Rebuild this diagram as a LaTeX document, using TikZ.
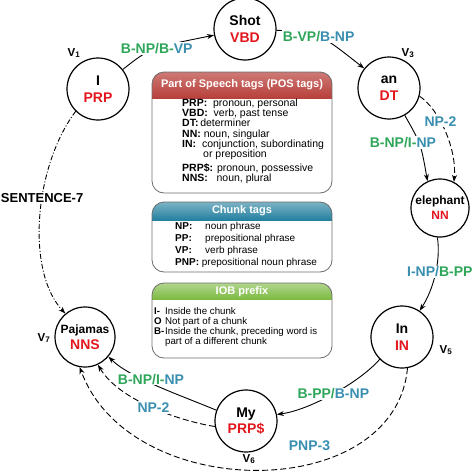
\documentclass[tikz,border=0pt]{standalone}
\usepackage{fontspec}
\setmainfont{Liberation Sans}
\usetikzlibrary{arrows.meta}
\definecolor{tagred}{HTML}{E3161D}
\definecolor{iobgreen}{HTML}{2FA65A}
\definecolor{chunkblue}{HTML}{3A8FB0}
\definecolor{posred}{HTML}{B8403B}
\definecolor{chunkhead}{HTML}{24809F}
\definecolor{iobhead}{HTML}{7DBA42}
\newcommand{\ptag}[1]{\textcolor{tagred}{#1}}
\newcommand{\gtag}[1]{\textcolor{iobgreen}{#1}}
\newcommand{\btag}[1]{\textcolor{chunkblue}{#1}}

\begin{document}
\begin{tikzpicture}[x=1pt,y=-1pt,
  word/.style={circle,draw,line width=1.2pt,minimum size=62pt,inner sep=0pt,align=center,font=\bfseries\fontsize{14}{16.5}\selectfont},
  vlabel/.style={inner sep=0pt,font=\bfseries\fontsize{11.5}{11.5}\selectfont},
  link/.style={line width=0.9pt,-{Stealth[length=7pt,width=5pt]}},
  chunk/.style={link,dash pattern=on 6pt off 3pt},
  sent/.style={link,dash pattern=on 5pt off 2pt on 1pt off 2pt},
  lbl/.style={fill=white,inner sep=1pt,font=\bfseries\fontsize{14}{14}\selectfont},
  boxline/.style={draw=gray!85!black,line width=0.8pt,rounded corners=12pt},
  boxtitle/.style={text=white,inner sep=0pt,font=\bfseries\fontsize{11}{11}\selectfont},
  boxtext/.style={anchor=north west,inner sep=0pt,align=left}]
\useasboundingbox (0,0) rectangle (474,474);

\begin{scope}
  \clip[rounded corners=12pt] (152,72) rectangle (332,193);
  \shade[top color=posred!70!white,bottom color=posred] (152,72) rectangle (332,98);
\end{scope}
\draw[boxline] (152,72) rectangle (332,193);
\node[boxtitle] (postitle) at (242,85) {Part of Speech tags (POS tags)};
\node[boxtext,font=\fontsize{10.5}{10.3}\selectfont] (posbody) at (182,98.5) {\textbf{PRP:}\ \ pronoun, personal\\
  \textbf{VBD:}\ \ verb, past tense\\
  \textbf{DT:}\,determiner\\
  \textbf{NN:} noun, singular\\
  \textbf{IN:}\ \ conjunction, subordinating\\
  \hspace*{21pt}or preposition\\[3pt]
  \textbf{PRP\$:} pronoun, possessive\\
  \textbf{NNS:}\ \ \ noun, plural};

\begin{scope}
  \clip[rounded corners=12pt] (152,202) rectangle (332,272);
  \shade[top color=chunkhead!60!white,bottom color=chunkhead] (152,202) rectangle (332,220);
\end{scope}
\draw[boxline] (152,202) rectangle (332,272);
\node[boxtitle] (chunktitle) at (242,211) {Chunk tags};
\node[boxtext,font=\fontsize{10}{12}\selectfont] (chunkbody) at (175,222) {\makebox[30pt][l]{\textbf{NP:}}noun phrase\\
  \makebox[30pt][l]{\textbf{PP:}}prepositional phrase\\
  \makebox[30pt][l]{\textbf{VP:}}verb phrase\\
  \textbf{PNP:} prepositional noun phrase};

\begin{scope}
  \clip[rounded corners=12pt] (152,283) rectangle (332,358);
  \shade[top color=iobhead!60!white,bottom color=iobhead] (152,283) rectangle (332,299);
\end{scope}
\draw[boxline] (152,283) rectangle (332,358);
\node[boxtitle] (iobtitle) at (242,292) {IOB prefix};
\node[boxtext,font=\fontsize{9.7}{10.2}\selectfont] (iobbody) at (154,307) {\makebox[11pt][l]{\textbf{I-}}Inside the chunk\\
  \makebox[11pt][l]{\textbf{O}}Not part of a chunk\\
  \makebox[11pt][l]{\textbf{B-}}Inside the chunk, preceding word is\\
  \hspace*{11pt}part of a different chunk};

\node[word] (i) at (98,89) {I\\\ptag{PRP}};
\node[word] (shot) at (245,29) {Shot\\\ptag{VBD}};
\node[word] (an) at (389,88) {an\\\ptag{DT}};
\node[word,minimum size=58pt,font=\bfseries\fontsize{12}{15}\selectfont] (elephant) at (440,208) {elephant\\\ptag{NN}};
\node[word] (in) at (402,337) {In\\\ptag{IN}};
\node[word] (my) at (246,421) {My\\\ptag{PRP\$}};
\node[word,minimum size=60pt] (pajamas) at (85,337) {{\fontsize{12}{12}\selectfont Pajamas}\\\ptag{NNS}};

\node[vlabel] (v1) at (74,53) {V\textsubscript{1}};
\node[vlabel] (v3) at (408,53) {V\textsubscript{3}};
\node[vlabel] (v5) at (446,350) {V\textsubscript{5}};
\node[vlabel] (v6) at (249,459) {V\textsubscript{6}};
\node[vlabel] (v7) at (44,338) {V\textsubscript{7}};

\draw[link] (i) .. controls (150,48) .. (shot) node[lbl,pos=0.53] {\gtag{B-NP/B-}\btag{VP}};
\draw[link] (shot) .. controls (318,32) .. (an) node[lbl,pos=0.5] {\gtag{B-VP/}\btag{B-NP}};
\draw[link] (an.-60) .. controls (421,144) .. (elephant.115) node[lbl,pos=0.45,xshift=-16pt] {\gtag{B-NP/I-}\btag{NP}};
\draw[chunk] (an.-15) .. controls (440,110) and (457,150) .. (elephant.62) node[lbl,pos=0.38] {\btag{NP-2}};
\draw[link] (elephant.-95) .. controls (441,262) and (433,290) .. (in.56) node[lbl,pos=0.45,xshift=4pt] {\btag{I-NP/}\gtag{B-PP}};
\draw[link] (in.-135) .. controls (360,382) and (310,410) .. (my.12) node[lbl,pos=0.5] {\gtag{B-PP/}\btag{B-NP}};
\draw[chunk] (in.-80) .. controls (395,504) and (130,504) .. (pajamas.-100) node[lbl,pos=0.38,yshift=18pt] {\btag{PNP-3}};
\draw[link] (my.160) .. controls (180,395) and (130,378) .. (pajamas.-40) node[lbl,pos=0.55,yshift=4pt] {\gtag{B-NP/I-}\btag{NP}};
\draw[chunk] (my.190) .. controls (185,422) and (120,402) .. (pajamas.-65) node[lbl,pos=0.5] {\btag{NP-2}};
\draw[sent] (i.-135) .. controls (35,165) and (25,270) .. (pajamas.130) node[lbl,pos=0.42,font=\bfseries\fontsize{13}{13}\selectfont] {SENTENCE-7};
\end{tikzpicture}
\end{document}
